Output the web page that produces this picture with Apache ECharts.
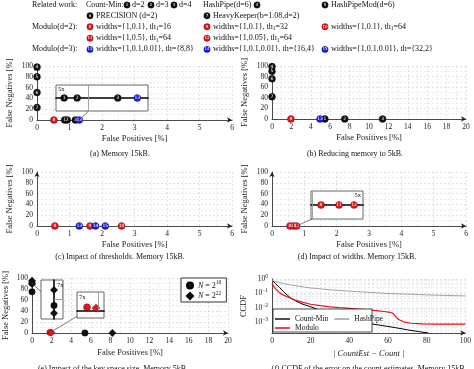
<!DOCTYPE html>
<html><head><meta charset="utf-8">
<script src="https://cdn.jsdelivr.net/npm/echarts/dist/echarts.min.js"></script>
<style>html,body{margin:0;padding:0;background:#fff}#c{width:474px;height:369px}</style>
</head><body><div id="c"></div><script>
// ---------- DATA ----------
// (a) Memory 15kB  [false positives %, false negatives %]
const aBlack = [[0,98],[0,80],[0,51],[0,23],[0.85,0],[0.93,0],[1.18,0]];
const aBlackTag = ['4','5','6','7','1','2','3'];
const aRed = [[0.52,0]];
const aRedTag = ['8'];
const aBlue = [[1.30,0]];
const aBlueTag = ['13'];
// (b) Memory 5kB
const bBlack = [[0,99],[0,90],[0,76],[0,42],[5.45,0],[7.5,0],[11.4,0]];
const bBlackTag = ['4','5','6','7','1','2','3'];
const bRed = [[1.95,0]];
const bRedTag = ['8'];
const bBlue = [[4.95,0]];
const bBlueTag = ['13'];
// (c) thresholds
const cRed = [[0.55,0],[1.63,0],[2.6,0]];
const cRedTag = ['8','9','10'];
const cBlue = [[1.3,0],[1.8,0],[2.1,0]];
const cBlueTag = ['13','14','15'];
// (d) widths
const dRed = [[0.556,0],[0.667,0],[0.76,0]];
const dRedTag = ['8','11','12'];
// (e) N = 2^16 (circle) / N = 2^22 (diamond)
const eCircle = [[0,91],[0,75],[5.4,0]];
const eDiamond = [[0,95],[0,89],[8.2,0]];
const eRedCircle = [[1.84,1.0]];
const eRedDiamond = [[1.97,0.8]];
// (f) CCDF of |CountEst - Count|
const cmCurve = [[0,0.85],[2,0.45],[4,0.25],[6,0.13],[8,0.075],[10,0.045],[13,0.027],[16,0.018],[20,0.012],[24,0.0076],[30,0.0047],[36,0.0029],[42,0.0017],[47,0.0011],[52,0.00077],[58,0.00058],[64,0.00043],[70,0.00031],[76,0.00023],[81,0.000185]];
const hpCurve = [[0,0.8],[3,0.6],[6,0.48],[10,0.38],[15,0.3],[20,0.24],[30,0.18],[40,0.145],[50,0.12],[60,0.1],[70,0.09],[80,0.08],[90,0.073],[100,0.068]];
const modCurve = [[0,0.5],[1,0.3],[2,0.2],[4,0.11],[6,0.075],[8,0.058],[10,0.045],[12,0.035],[16,0.024],[20,0.018],[25,0.0145],[30,0.012],[35,0.0105],[40,0.0093],[45,0.0082],[50,0.0073],[55,0.0063],[58,0.0057],[61,0.005],[62.5,0.0042],[64,0.0025],[65.5,0.0016],[68,0.0011],[72,0.00088],[78,0.0008],[85,0.00077],[100,0.00076]];
// tick / text labels
const fpName = 'False Positives [%]';
const fnName = 'False Negatives [%]';
const captions = ['(a) Memory 15kB.','(b) Reducing memory to 5kB.','(c) Impact of thresholds. Memory 15kB.','(d) Impact of widths. Memory 15kB.','(e) Impact of the key space size. Memory 5kB.','(f) CCDF of the error on the count estimates. Memory 15kB.'];
const eLegendNames = ['N16','N22'];
const eLegendText = {N16:'{i|N} = 2{s|16}', N22:'{i|N} = 2{s|22}'};
const fSeriesNames = ['Count-Min','HashPipe','Modulo'];
const relatedLabels = ['Related work:','Count-Min:','d=2','d=3','d=4','HashPipe(d=6)','HashPipeMod(d=6)','PRECISION (d=2)','HeavyKeeper(b=1.08,d=2)'];
const moduloHeads = ['Modulo(d=2):','Modulo(d=3):'];
const modulo2Labels = ['widths={1,0.1}, th{sub|1}=16','widths={1,0.1}, th{sub|1}=32','widths={1,0.1}, th{sub|1}=64','widths={1,0.5}, th{sub|1}=64','widths={1,0.05}, th{sub|1}=64'];
const modulo3Labels = ['widths={1,0.1,0.01}, th={8,8}','widths={1,0.1,0.01}, th={16,4}','widths={1,0.1,0.01}, th={32,2}'];

// ---------- STYLE ----------
const F = 'Liberation Serif';
const BLACK = '#111', RED = '#e8141c', BLUE = '#1b1be6';

const chart = echarts.init(document.getElementById('c'), null, {renderer:'canvas'});

function mainX(gi, max, interval, name, nameGap, minorN) {
  return {type:'value', gridIndex:gi, min:0, max, interval, name, nameLocation:'middle', nameGap,
    nameTextStyle:{fontFamily:F,fontSize:8.5,color:'#222'},
    axisLine:{show:true,onZero:false,symbol:['none','arrow'],symbolSize:[4,5],lineStyle:{color:'#222',width:0.8}},
    axisTick:{show:false},
    axisLabel:{fontFamily:F,fontSize:7.5,color:'#222',margin:4},
    splitLine:{show:true,lineStyle:{color:'#cfcfcf',type:[2,2],width:0.6}},
    minorTick:{show:false,splitNumber:minorN||2},
    minorSplitLine:{show:true,lineStyle:{color:'#e0e0e0',type:[2,2],width:0.6}}};
}
function mainY(gi, nameGap) {
  return {type:'value', gridIndex:gi, min:0, max:100, interval:20, name:fnName, nameLocation:'middle', nameGap,
    nameTextStyle:{fontFamily:F,fontSize:8.5,color:'#222'},
    axisLine:{show:true,onZero:false,symbol:['none','arrow'],symbolSize:[4,5],lineStyle:{color:'#222',width:0.8}},
    axisTick:{show:false},
    axisLabel:{fontFamily:F,fontSize:7.5,color:'#222',margin:4},
    splitLine:{show:true,lineStyle:{color:'#cfcfcf',type:[2,2],width:0.6}},
    minorTick:{show:false,splitNumber:2},
    minorSplitLine:{show:true,lineStyle:{color:'#e0e0e0',type:[2,2],width:0.6}}};
}
function insetAxis(kind, gi, min, max, lineShow) {
  return {type:'value', gridIndex:gi, min, max, z:2,
    axisLine:{show:lineShow,onZero:true,lineStyle:{color:'#000',width:1.6}},
    axisTick:{show:false}, axisLabel:{show:false}, splitLine:{show:false}};
}
function sc(name, gi, data, color, tags, symbol, size) {
  return {type:'scatter', name, xAxisIndex:gi, yAxisIndex:gi, data, z:3, clip:true,
    symbol:symbol||'circle', symbolSize:size||7,
    itemStyle:{color, borderColor:'#000', borderWidth:0.3, opacity:1},
    label:{show:!!tags, position:'inside', fontSize:4.5, color:'#fff', fontFamily:'DejaVu Sans',
      formatter:(p)=> tags ? tags[p.dataIndex] : ''},
    emphasis:{disabled:true}};
}
function mlines(data) {
  return {silent:true, symbol:'none', label:{show:false}, animation:false,
    lineStyle:{color:'#999',type:'solid',width:0.9}, data};
}

const insetGrid = (l,t,w,h) => ({left:l, top:t, width:w, height:h, show:true, z:1,
  backgroundColor:'#fff', borderColor:'#555', borderWidth:0.9});

const option = {
  animation:false,
  backgroundColor:'#fff',
  grid:[
    {left:37, right:242, top:66, bottom:249},
    {left:272, right:8, top:66, bottom:250},
    {left:37, right:242, top:172, bottom:143},
    {left:272, right:8, top:172, bottom:143},
    {left:32, right:246, top:278, bottom:36},
    {left:272, right:8, top:279, bottom:36},
    insetGrid(56,85,92,26),
    insetGrid(311,191,52,28),
    insetGrid(41,280,22,39),
    insetGrid(77,292,27,26)
  ],
  xAxis:[
    mainX(0,6,1,fpName,14),
    mainX(1,20,2,fpName,14),
    mainX(2,6,1,fpName,14.5),
    mainX(3,6,1,fpName,14.5),
    mainX(4,20,2,fpName,15.5),
    Object.assign(mainX(5,100,20,'| CountEst − Count |',16,8),{nameTextStyle:{fontFamily:F,fontSize:8.5,color:'#222',fontStyle:'italic'}}),
    insetAxis('x',6,0.8,1.366,true),
    insetAxis('x',7,0.494,0.815,true),
    insetAxis('x',8,-0.19,0.131,false),
    insetAxis('x',9,1.694,2.088,true)
  ],
  yAxis:[
    mainY(0,22.5), mainY(1,22.5), mainY(2,22.5), mainY(3,22.5), mainY(4,22),
    {type:'log', logBase:10, gridIndex:5, min:0.000186, max:1, name:'CCDF', nameLocation:'middle', nameGap:24,
      nameTextStyle:{fontFamily:F,fontSize:8.5,color:'#222'},
      axisLine:{show:true,onZero:false,lineStyle:{color:'#222',width:0.8}},
      axisTick:{show:false},
      axisLabel:{fontFamily:F,fontSize:7.5,color:'#222',margin:4,showMinLabel:false,
        formatter:(v)=>{const e=Math.round(Math.log10(v));return '10{s|'+(e<0?'−'+(-e):e)+'}';},
        rich:{s:{fontSize:5.5,fontFamily:F,color:'#222',padding:[0,0,5,0]}}},
      splitLine:{show:true,lineStyle:{color:'#cfcfcf',type:[2,2],width:0.6}},
      minorTick:{show:false,splitNumber:5},
      minorSplitLine:{show:true,lineStyle:{color:'#dcdcdc',type:[2,2],width:0.6}}},
    insetAxis('y',6,-4.8,4.8,false),
    insetAxis('y',7,-5.2,5.2,false),
    insetAxis('y',8,87.5,97.6,true),
    insetAxis('y',9,-1.8,4.9,false)
  ],
  legend:[
    {left:181, top:278, orient:'vertical', data:eLegendNames, backgroundColor:'#fff', borderColor:'#000', borderWidth:0.8,
      padding:[2,5,2,5], itemGap:1, itemWidth:6, itemHeight:6, z:6, selectedMode:false,
      formatter:(n)=>eLegendText[n],
      textStyle:{fontFamily:F,fontSize:8,color:'#111',
        rich:{i:{fontStyle:'italic',fontSize:8,fontFamily:F,color:'#111'},
              s:{fontSize:5.5,fontFamily:F,color:'#111',padding:[0,0,5,0]}}}},
    {left:272, top:313, data:[fSeriesNames[0],fSeriesNames[1]], icon:'rect', itemWidth:15, itemHeight:1.4, itemGap:6, padding:[2,3],
      z:6, selectedMode:false, textStyle:{fontFamily:F,fontSize:7.5,color:'#111'}},
    {left:272, top:322, data:[fSeriesNames[2]], icon:'rect', itemWidth:15, itemHeight:1.6, padding:[2,3],
      z:6, selectedMode:false, textStyle:{fontFamily:F,fontSize:7.5,color:'#111'}}
  ],
  series:[
    sc('aBlack',0,aBlack,BLACK,aBlackTag), sc('aRed',0,aRed,RED,aRedTag), sc('aBlue',0,aBlue,BLUE,aBlueTag),
    sc('bBlack',1,bBlack,BLACK,bBlackTag), sc('bRed',1,bRed,RED,bRedTag), sc('bBlue',1,bBlue,BLUE,bBlueTag),
    sc('cRed',2,cRed,RED,cRedTag), sc('cBlue',2,cBlue,BLUE,cBlueTag),
    sc('dRed',3,dRed,RED,dRedTag),
    sc('N16',4,eCircle,BLACK,null,'circle',6.5), sc('N22',4,eDiamond,BLACK,null,'diamond',7.5),
    sc('eRc',4,eRedCircle,RED,null,'circle',6.5), sc('eRd',4,eRedDiamond,RED,null,'diamond',7.5),
    {type:'line', name:fSeriesNames[0], xAxisIndex:5, yAxisIndex:5, data:cmCurve, symbol:'none', z:2,
      lineStyle:{color:'#000',width:1}, itemStyle:{color:'#000'}},
    {type:'line', name:fSeriesNames[1], xAxisIndex:5, yAxisIndex:5, data:hpCurve, symbol:'none', z:2,
      lineStyle:{color:'#999',width:0.9}, itemStyle:{color:'#999'}},
    {type:'line', name:fSeriesNames[2], xAxisIndex:5, yAxisIndex:5, data:modCurve, symbol:'none', z:2,
      lineStyle:{color:RED,width:1.2}, itemStyle:{color:RED}},
    // insets
    Object.assign(sc('iaBlack',6,aBlack,BLACK,aBlackTag),{markLine:mlines([{xAxis:1}])}),
    sc('iaBlue',6,aBlue,BLUE,aBlueTag),
    Object.assign(sc('idRed',7,dRed,RED,dRedTag),{markLine:mlines([{xAxis:0.5}])}),
    Object.assign(sc('ieC',8,eCircle,BLACK,null,'circle',6.5),{markLine:mlines([[{coord:[0,92.6]},{coord:[0.122,92.6]}],[{coord:[0.122,92.6]},{coord:[0.122,97.6]}]])}),
    sc('ieD',8,eDiamond,BLACK,null,'diamond',7.5),
    Object.assign(sc('ieRc',9,eRedCircle,RED,null,'circle',7),{markLine:mlines([[{coord:[2,0]},{coord:[2,4.9]}]])}),
    sc('ieRd',9,eRedDiamond,RED,null,'diamond',8)
  ]
};
chart.setOption(option);

// ---------- graphic: top legend, captions, inset labels, connectors ----------
const T = (x,y,text,opt) => Object.assign({type:'text', x, y, z:10, style:Object.assign({text, fontFamily:F, fontSize:8, fill:'#111',
   align:'left', verticalAlign:'middle',
   rich:{sub:{fontSize:5.5,fontFamily:F,fill:'#111',padding:[4,0,0,0]}}}, opt||{})});
const M = (cx,cy,color,tag) => [{type:'circle', z:10, shape:{cx,cy,r:3.2}, style:{fill:color,stroke:'#000',lineWidth:0.3}},
   {type:'text', x:cx, y:cy, z:11, style:{text:tag, fontSize:4, fontFamily:'DejaVu Sans', fill:'#fff', align:'center', verticalAlign:'middle'}}];

let els = [];
const r1=5, r2=15.7, r3=26.8, r4=38.3, r5=49.4;
els.push(T(32,r1,relatedLabels[0]), T(86,r1,relatedLabels[1]));
els.push(...M(127,r1,BLACK,'1'), T(132,r1,relatedLabels[2]));
els.push(...M(151,r1,BLACK,'2'), T(156,r1,relatedLabels[3]));
els.push(...M(174,r1,BLACK,'3'), T(179,r1,relatedLabels[4]));
els.push(T(203,r1,relatedLabels[5]), ...M(257,r1,BLACK,'4'));
els.push(...M(325,r1,BLACK,'5'), T(331,r1,relatedLabels[6]));
els.push(...M(90,r2,BLACK,'6'), T(96,r2,relatedLabels[7]));
els.push(...M(207,r2,BLACK,'7'), T(213,r2,relatedLabels[8]));
els.push(T(32,r3,moduloHeads[0]), T(32,r5,moduloHeads[1]));
els.push(...M(90,r3,RED,'8'), T(96,r3,modulo2Labels[0]));
els.push(...M(207,r3,RED,'9'), T(213,r3,modulo2Labels[1]));
els.push(...M(325,r3,RED,'10'), T(331,r3,modulo2Labels[2]));
els.push(...M(90,r4,RED,'11'), T(96,r4,modulo2Labels[3]));
els.push(...M(207,r4,RED,'12'), T(213,r4,modulo2Labels[4]));
els.push(...M(90,r5,BLUE,'13'), T(96,r5,modulo3Labels[0]));
els.push(...M(207,r5,BLUE,'14'), T(213,r5,modulo3Labels[1]));
els.push(...M(325,r5,BLUE,'15'), T(331,r5,modulo3Labels[2]));

// captions
const capPos = [[120,154],[355,154],[120,257],[357,257],[113,369],[369,369]];
captions.forEach((c,i)=>els.push(T(capPos[i][0],capPos[i][1],c,{align:'center'})));

// inset zoom labels
els.push(T(58,89,'5x',{fontSize:6.5}), T(361,195,'5x',{fontSize:6.5,align:'right'}),
         T(57,285,'7x',{fontSize:6.5}), T(79,297,'7x',{fontSize:6.5}));

// legend box for (f)
els.push({type:'rect', z:5, shape:{x:273,y:309,width:99,height:23}, style:{fill:'#fff',stroke:'#222',lineWidth:0.8}});

// connectors from data points to insets
const px = (gi, pt) => chart.convertToPixel({xAxisIndex:gi, yAxisIndex:gi}, pt);
const conns = [[0,aBlue[0],6,[1.0,-4.8]],[3,dRed[2],7,[0.5,-5.2]],[4,[0,91],8,[-0.19,94.5]],[4,eRedCircle[0],9,[1.694,-1.4]]];
conns.forEach(([g1,p1,g2,p2])=>{
  const a = px(g1,p1), b = px(g2,p2);
  els.push({type:'line', z:4, shape:{x1:a[0],y1:a[1],x2:b[0],y2:b[1]}, style:{stroke:'#444',lineWidth:0.7}});
});

chart.setOption({graphic:{elements:els}});
</script></body></html>
